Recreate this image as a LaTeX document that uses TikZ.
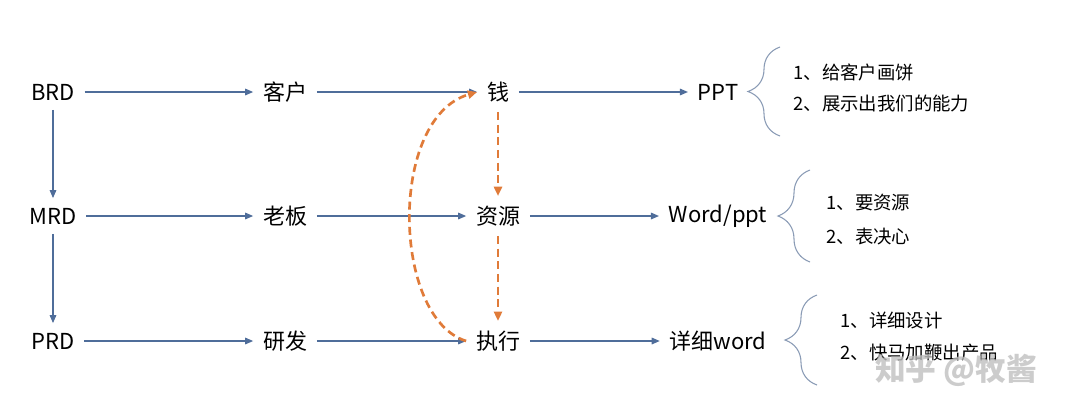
\documentclass[tikz,border=0pt]{standalone}
\usepackage{fontspec}
\setmainfont{Noto Sans CJK SC}
\usetikzlibrary{arrows.meta,decorations.pathreplacing}
\definecolor{lineblue}{HTML}{4F6D9A}
\definecolor{dashorange}{HTML}{E07B39}
\definecolor{braceblue}{HTML}{8A9BB5}
\begin{document}
\begin{tikzpicture}[x=0.75pt, y=-0.75pt, thick,
    doc node/.style={inner sep=7pt, font=\fontsize{16.5}{19}\selectfont},
    item/.style={anchor=west, inner sep=0pt, font=\fontsize{13.8}{16}\selectfont},
    flow/.style={draw=lineblue, line width=0.8pt, -{Triangle[length=6pt,width=5pt]}},
    money/.style={draw=dashorange, line width=2pt, dash pattern=on 6pt off 3.5pt, -{Triangle[length=7pt,width=6pt]}},
    curly/.style={draw=braceblue, line width=0.8pt, decorate, decoration={brace, amplitude=24pt}}]
    \useasboundingbox (0,0) rectangle (1067,412);
    \node[doc node](BRD) at (53,92){BRD};
    \node[doc node](MRD) at (53,216){MRD};
    \node[doc node](PRD) at (53,341){PRD};
    \node[doc node](client) at (285,92){客户};
    \node[doc node](boss) at (285,216){老板};
    \node[doc node](dev) at (285,341){研发};
    \node[doc node](money) at (498,92){钱};
    \node[doc node](res) at (498,216){资源};
    \node[doc node](exec) at (498,341){执行};
    \node[doc node](PPT) at (718,92){PPT};
    \node[doc node](word) at (718,216){Word/ppt};
    \node[doc node](detail) at (718,341){详细word};

    \coordinate (b1) at (780,47);  \coordinate (b1s) at (780,136);
    \coordinate (b2) at (810,170); \coordinate (b2s) at (810,262);
    \coordinate (b3) at (817,295); \coordinate (b3s) at (817,385);

    \node[item](t11) at (793,72){1、给客户画饼};
    \node[item](t12) at (793,104){2、展示出我们的能力};
    \node[item](t21) at (826,203){1、要资源};
    \node[item](t22) at (826,237){2、表决心};
    \node[item](t31) at (840,320){1、详细设计};
    \node[item](t32) at (840,353){2、快马加鞭出产品};
    \node[font=\fontsize{23}{26}\selectfont\bfseries, text=black!25, opacity=0.8](mark) at (956,370){知乎 @牧酱};

\foreach \s/\t in {BRD/client, client/money, money/PPT, MRD/boss, boss/res, res/word, PRD/dev, dev/exec, exec/detail}{
    \draw[flow] (\s.east) -- (\t.west);}
\foreach \s/\t in {BRD/MRD, MRD/PRD}{
    \draw[flow] (\s.south) -- (\t.north);}
\foreach \s/\t in {money/res, res/exec}{
    \draw[money] (\s.south) -- (\t.north);}
\draw[money] (exec.west) .. controls (392,318) and (388,118) .. (money.west);
\foreach \s/\t in {b1s/b1, b2s/b2, b3s/b3}{
    \draw[curly] (\s) -- (\t);}
\end{tikzpicture}
\end{document}
